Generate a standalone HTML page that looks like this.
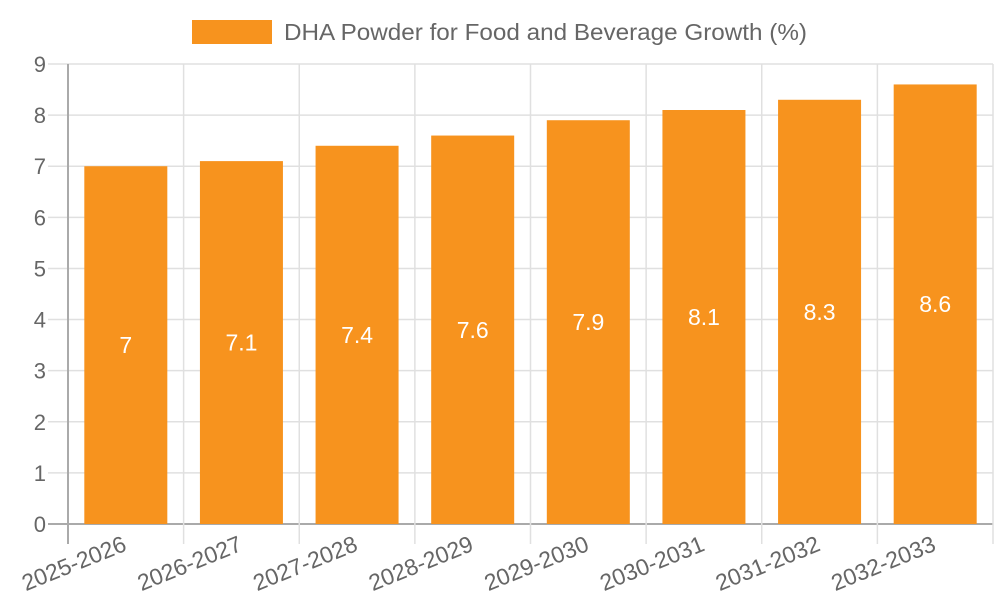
<!DOCTYPE html>
<html><head><meta charset="utf-8"><style>
html,body{margin:0;padding:0;background:#fff;}
svg text{font-family:"Liberation Sans",sans-serif;}
</style></head><body>
<svg id="chart" width="1000" height="600" xmlns="http://www.w3.org/2000/svg">
<g>
<rect x="192" y="20" width="80" height="24" fill="#f7931e"/>
<text x="284" y="40" font-size="23" textLength="523" lengthAdjust="spacingAndGlyphs" fill="#666">DHA Powder for Food and Beverage Growth (%)</text>
</g>
<g id="grid"></g><g id="bars"></g><g id="labels"></g>
</svg>
<script>
const categories=["2025-2026","2026-2027","2027-2028","2028-2029","2029-2030","2030-2031","2031-2032","2032-2033"];
const values=[7,7.1,7.4,7.6,7.9,8.1,8.3,8.6];
const yTicks=[0,1,2,3,4,5,6,7,8,9];
const NS="http://www.w3.org/2000/svg";
const L=68,R=993,T=64,B=524,yMax=9;
const y=v=>B-(v/yMax)*(B-T);
const bw=(R-L)/categories.length;
const xc=i=>L+bw*(i+0.5);
function mk(tag,attrs,parent){const e=document.createElementNS(NS,tag);for(const k in attrs)e.setAttribute(k,attrs[k]);parent.appendChild(e);return e;}
const grid=document.getElementById('grid'),bars=document.getElementById('bars'),labels=document.getElementById('labels');
yTicks.forEach(t=>{
 const ln=mk('line',{x1:48,x2:R,y1:y(t),y2:y(t),stroke:t===0?'#aaa':'#e0e0e0','stroke-width':t===0?2:1.5},grid);
 
 
 const tx=mk('text',{x:46,y:y(t)+8,'text-anchor':'end','font-size':22,fill:'#666'},grid);
 tx.textContent=t;
 
 
});
for(let i=0;i<=categories.length;i++){
 const x=L+bw*i;
 const ln=mk('line',{x1:x,x2:x,y1:T,y2:544,stroke:i===0?'#aaa':'#e0e0e0','stroke-width':i===0?2:1.5},grid);
 
 
}
categories.forEach((c,i)=>{
 const w=83,v=values[i];
 const r=mk('rect',{x:xc(i)-w/2,y:y(v),width:w,height:B-y(v),fill:'#f7931e'},bars);
 
 
 const vt=mk('text',{x:xc(i),y:(y(v)+B)/2+8,'text-anchor':'middle','font-size':23,fill:'#fff'},labels);
 vt.textContent=v;
 
 
 const ax=xc(i)+2,ay=550;
 const xt=mk('text',{x:ax,y:ay,'text-anchor':'end','font-size':23,fill:'#666',transform:`rotate(-22 ${ax} ${ay})`},labels);
 xt.textContent=c;
 
 
});
</script>
</body></html>
